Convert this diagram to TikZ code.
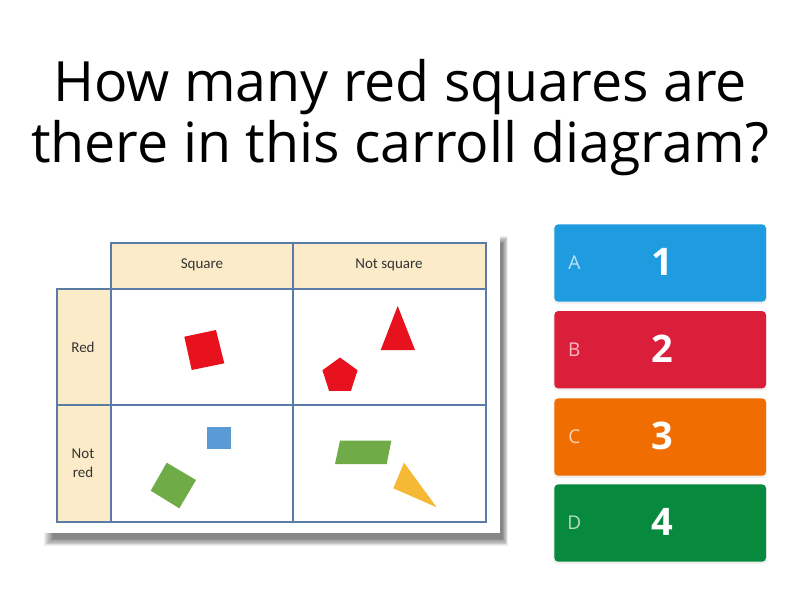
\documentclass[tikz,border=0pt]{standalone}
\usepackage{fontspec}
\setmainfont{Open Sans}
\newfontfamily\cellfont{Carlito}
\usetikzlibrary{shapes.geometric}
\definecolor{gridc}{HTML}{5A7BA6}
\definecolor{headc}{HTML}{FCEBC9}
\definecolor{shred}{HTML}{E8121E}
\definecolor{shblue}{HTML}{5B9BD5}
\definecolor{shgreen}{HTML}{6FAB46}
\definecolor{shyellow}{HTML}{F5B936}
\definecolor{btnA}{HTML}{1F9CE0}
\definecolor{btnB}{HTML}{DB1E3A}
\definecolor{btnC}{HTML}{F06D02}
\definecolor{btnD}{HTML}{078A3D}
\tikzset{
  btn/.style={rounded corners=4pt},
  letter/.style={text=white, opacity=0.7, font=\fontsize{19}{22}\selectfont, anchor=center},
  num/.style={text=white, font=\fontsize{38}{40}\selectfont\bfseries, anchor=center},
  cell/.style={font=\cellfont\fontsize{15}{18.5}\selectfont, text=black!80, align=center},
  gridline/.style={draw=gridc, line width=1.1pt},
  titletext/.style={font=\fontsize{55.5}{61}\selectfont, anchor=base},
}
\begin{document}
\begin{tikzpicture}[x=1pt,y=-1pt]
\useasboundingbox (0,0) rectangle (800,600);
\fill[white] (0,0) rectangle (800,600);
% title
\node[titletext] (title1) at (400,101) {How many red squares are};
\node[titletext] (title2) at (400,162) {there in this carroll diagram?};
% photo shadow
\foreach \i in {0,...,9}{
  \fill[black, opacity=0.06] (44+\i,236+\i*0.8) rectangle (508-\i*0.6,546-\i*0.8);
}
\fill[white] (38,226) rectangle (500,533);
% header fill
\fill[headc] (111,243) rectangle (486,289);
\fill[headc] (57,289) rectangle (111,522);
% grid
\draw[gridline] (111,243) rectangle (486,522);
\draw[gridline] (57,289) rectangle (111,522);
\draw[gridline] (293,243) -- (293,522);
\draw[gridline] (57,289) -- (486,289);
\draw[gridline] (57,405) -- (486,405);
% labels
\node[cell] (sq) at (202,265) {Square};
\node[cell] (nsq) at (389,265) {Not square};
\node[cell] (red) at (83,347) {Red};
\node[cell] (nred) at (83,463) {Not\\red};
% shapes
\fill[shred] (184.3,336.7) -- (216,330) -- (224.3,363.3) -- (191.7,370) -- cycle;
\fill[shred] (397.7,306) -- (415,350) -- (380.7,350) -- cycle;
\node[regular polygon, regular polygon sides=5, fill=shred, minimum size=37pt, inner sep=0pt] (pent) at (340,376) {};
\fill[shblue] (207,426.7) rectangle (231,449.3);
\fill[shgreen] (166.7,462.7) -- (196,480) -- (179.3,508.3) -- (150.7,490.7) -- cycle;
\fill[shgreen] (340,440.7) -- (391.3,440.7) -- (386.7,464) -- (335,464) -- cycle;
\fill[shyellow] (404,462.7) -- (436.7,507.3) -- (393.3,488.3) -- cycle;
% buttons
\foreach \n/\c/\l/\v/\y in {a/btnA/A/1/224.3, b/btnB/B/2/311, c/btnC/C/3/398.3, d/btnD/D/4/484.3}{
  \fill[black, opacity=0.06, btn] (553.3,\y+1.5) rectangle (767,\y+79.5);
  \fill[\c, btn] (554.3,\y) rectangle (766,\y+77.4);
  \node[letter] (l\n) at (574.3,\y+38.7) {\l};
  \node[num] (v\n) at (662.3,\y+37.5) {\v};
}
\end{tikzpicture}
\end{document}
